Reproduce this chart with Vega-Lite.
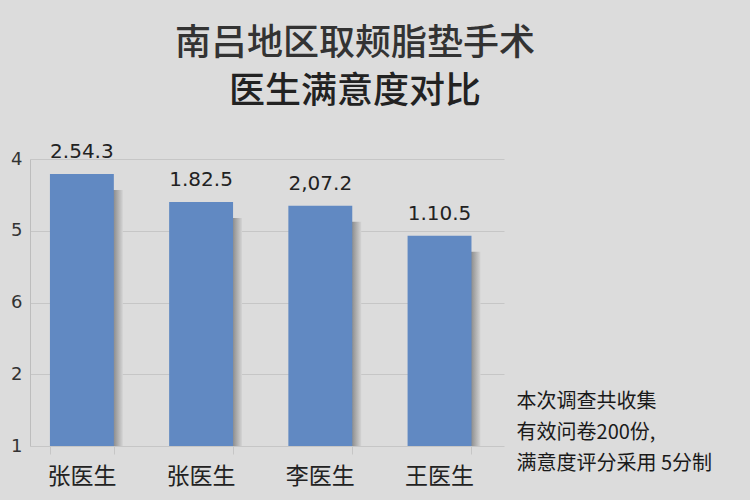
{
  "$schema": "https://vega.github.io/schema/vega-lite/v6.json",
  "autosize": {"type": "none"},
  "width": 474,
  "height": 287,
  "padding": {"left": 30, "top": 159, "right": 246, "bottom": 54},
  "background": "#dcdcdc",
  "config": {
    "view": {"stroke": null},
    "font": "Noto Sans CJK SC"
  },
  "title": {
    "text": "南吕地区取颊脂垫手术",
    "subtitle": "医生满意度对比",
    "font": "Noto Sans CJK SC",
    "fontSize": 36,
    "fontWeight": 500,
    "color": "#333333",
    "subtitleFont": "Noto Sans CJK SC",
    "subtitleFontSize": 36,
    "subtitleFontWeight": 500,
    "subtitleColor": "#222222",
    "subtitlePadding": 12,
    "anchor": "middle",
    "dx": 88,
    "offset": 31
  },
  "data": {
    "values": [
      {"rank": 1, "doctor": "张医生", "score": 4.79, "label": "2.54.3"},
      {"rank": 2, "doctor": "张医生", "score": 4.4, "label": "1.82.5"},
      {"rank": 3, "doctor": "李医生", "score": 4.35, "label": "2,07.2"},
      {"rank": 4, "doctor": "王医生", "score": 3.93, "label": "1.10.5"}
    ]
  },
  "encoding": {
    "x": {
      "field": "rank",
      "type": "ordinal",
      "scale": {"type": "band", "paddingInner": 0.464, "paddingOuter": 0.22, "align": 0.38},
      "axis": {
        "title": null,
        "labels": false,
        "domain": false,
        "ticks": true,
        "tickBand": "extent",
        "tickColor": "#c6c6c6",
        "tickSize": 8
      }
    }
  },
  "layer": [
    {
      "mark": {
        "type": "bar",
        "xOffset": 9,
        "yOffset": 16,
        "color": {
          "gradient": "linear",
          "x1": 0, "y1": 0, "x2": 1, "y2": 0,
          "stops": [
            {"offset": 0, "color": "#8f8f8f"},
            {"offset": 0.86, "color": "#8f8f8f"},
            {"offset": 1, "color": "#d4d4d4"}
          ]
        }
      },
      "encoding": {
        "y": {
          "field": "score",
          "type": "quantitative",
          "scale": {"domain": [1, 5], "zero": false, "nice": false},
          "axis": {
            "title": null,
            "values": [1, 1.5, 2, 2.5, 3, 3.5, 4, 4.5, 5],
            "labelExpr": "datum.value == 5 ? '4' : datum.value == 4 ? '5' : datum.value == 3 ? '6' : datum.value == 2 ? '2' : datum.value == 1 ? '1' : ''",
            "grid": true,
            "gridColor": "#c6c6c6",
            "gridWidth": 1,
            "domainColor": "#bdbdbd",
            "ticks": false,
            "labelFontSize": 18,
            "labelColor": "#333333",
            "labelPadding": 8,
            "labelFont": "DejaVu Sans"
          }
        },
        "y2": {"datum": 1}
      }
    },
    {
      "mark": {"type": "bar", "color": "#6189c2"},
      "encoding": {
        "y": {"field": "score", "type": "quantitative"},
        "y2": {"datum": 1}
      }
    },
    {
      "mark": {
        "type": "text",
        "baseline": "middle",
        "dy": -22,
        "fontSize": 20,
        "font": "DejaVu Sans",
        "color": "#222222"
      },
      "encoding": {
        "y": {"field": "score", "type": "quantitative"},
        "text": {"field": "label"}
      }
    },
    {
      "mark": {
        "type": "text",
        "baseline": "top",
        "dy": 20,
        "fontSize": 23,
        "color": "#222222"
      },
      "encoding": {
        "y": {"datum": 1},
        "text": {"field": "doctor"}
      }
    },
    {
      "data": {
        "values": [
          {"rank": 4, "note": "本次调查共收集\n有效问卷200份,\n满意度评分采用 5分制"}
        ]
      },
      "mark": {
        "type": "text",
        "align": "left",
        "baseline": "top",
        "lineBreak": "\n",
        "lineHeight": 31,
        "dx": 77,
        "dy": 18,
        "fontSize": 20,
        "color": "#1a1a1a"
      },
      "encoding": {
        "y": {"datum": 2},
        "text": {"field": "note"}
      }
    }
  ]
}
